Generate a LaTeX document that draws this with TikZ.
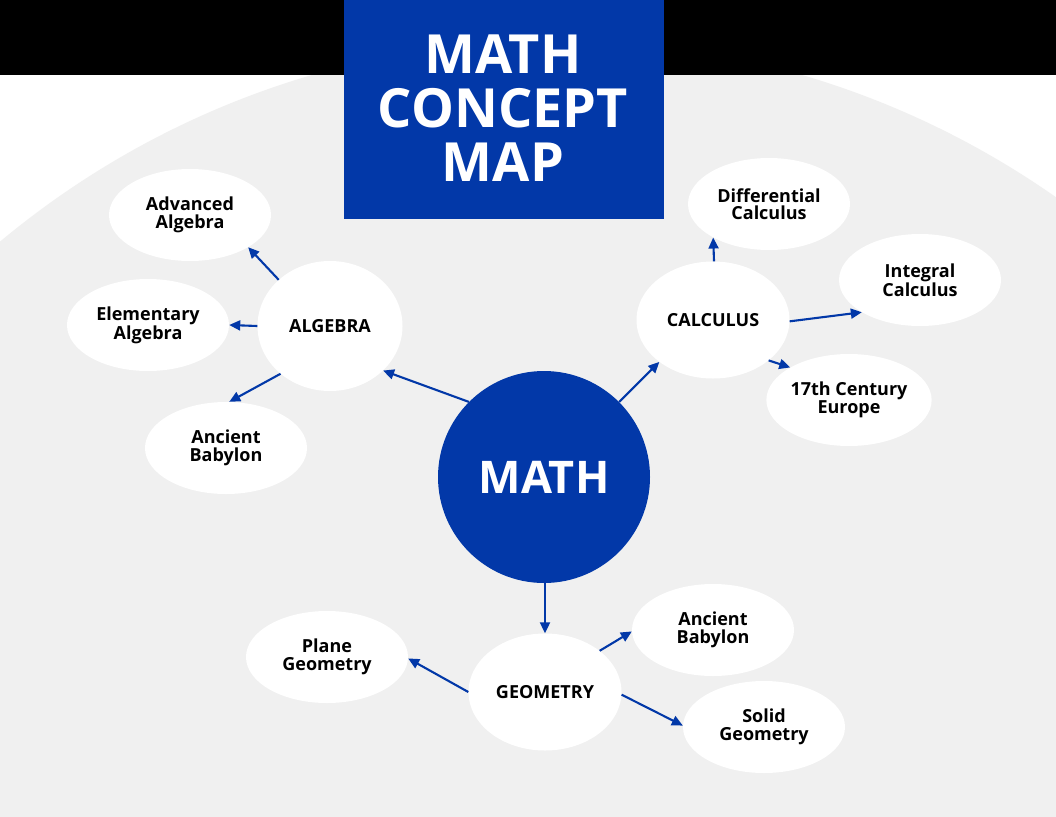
\documentclass[tikz,border=0pt]{standalone}
\usepackage{fontspec}
\setmainfont{Open Sans}
\usetikzlibrary{shapes.geometric,arrows.meta}
\definecolor{mblue}{RGB}{2,56,168}
\definecolor{bggray}{RGB}{240,240,240}
\tikzset{
  leaf/.style={ellipse,fill=white,minimum width=162pt,minimum height=92pt,inner sep=0pt,align=center,
    font=\fontsize{18}{17.5}\selectfont\bfseries,text=black},
  hub/.style={ellipse,fill=white,inner sep=0pt,align=center,font=\fontsize{18}{18}\selectfont\bfseries,text=black},
  arr/.style={draw=mblue,line width=2.1pt,-{Triangle[length=11pt,width=10pt]}},
}
\begin{document}
\begin{tikzpicture}[x=1pt,y=-1pt]
\useasboundingbox (0,0) rectangle (1056,816);
\begin{scope}
\clip (0,0) rectangle (1056,816);
\fill[white] (0,0) rectangle (1056,816);
\fill[bggray] (557,910) circle (870);
\fill[black] (0,0) rectangle (1056,75);
\end{scope}
\node[fill=mblue,minimum width=320pt,minimum height=219pt,inner sep=0pt,anchor=north west] (titlebox) at (344,0) {};
\node[text=white,align=center,inner sep=0pt,font=\fontsize{54}{54}\selectfont\bfseries] (title) at (503,108) {MATH\\CONCEPT\\MAP};

\node[circle,fill=mblue,minimum size=212pt,inner sep=0pt,text=white,font=\fontsize{45}{45}\selectfont\bfseries] (math) at (544,477) {MATH};

\node[hub,minimum width=145pt,minimum height=130pt] (alg) at (330,326) {ALGEBRA};
\node[hub,minimum width=153pt,minimum height=117pt] (calc) at (713,320) {CALCULUS};
\node[hub,minimum width=153pt,minimum height=117pt] (geo) at (545,692) {GEOMETRY};

\node[leaf] (adv) at (190,215) {Advanced\\Algebra};
\node[leaf] (elem) at (148,325) {Elementary\\Algebra};
\node[leaf] (babl) at (226,448) {Ancient\\Babylon};
\node[leaf] (diff) at (769,204) {Differential\\Calculus};
\node[leaf] (integ) at (920,280) {Integral\\Calculus};
\node[leaf] (cent) at (849,400) {17th Century\\Europe};
\node[leaf] (babr) at (713,630) {Ancient\\Babylon};
\node[leaf] (plane) at (327,657) {Plane\\Geometry};
\node[leaf] (solid) at (764,727) {Solid\\Geometry};

\draw[arr] (math.135) -- (alg.-40);
\draw[arr] (math.45) -- (calc.218);
\draw[arr] (math.south -| geo.north) -- (geo.north);

\draw[arr] (alg.138) -- (adv.-29);
\draw[arr] (alg.180) -- (elem.0);
\draw[arr] (alg.224) -- (babl.86);

\draw[arr] (calc.89) -- (diff.211);
\draw[arr] (calc.-1) -- (integ.209);
\draw[arr] (calc.-36) -- (cent.151);

\draw[arr] (geo.37) -- (babr.181);
\draw[arr] (geo.180) -- (plane.-1);
\draw[arr] (geo.-2) -- (solid.179);
\end{tikzpicture}
\end{document}
